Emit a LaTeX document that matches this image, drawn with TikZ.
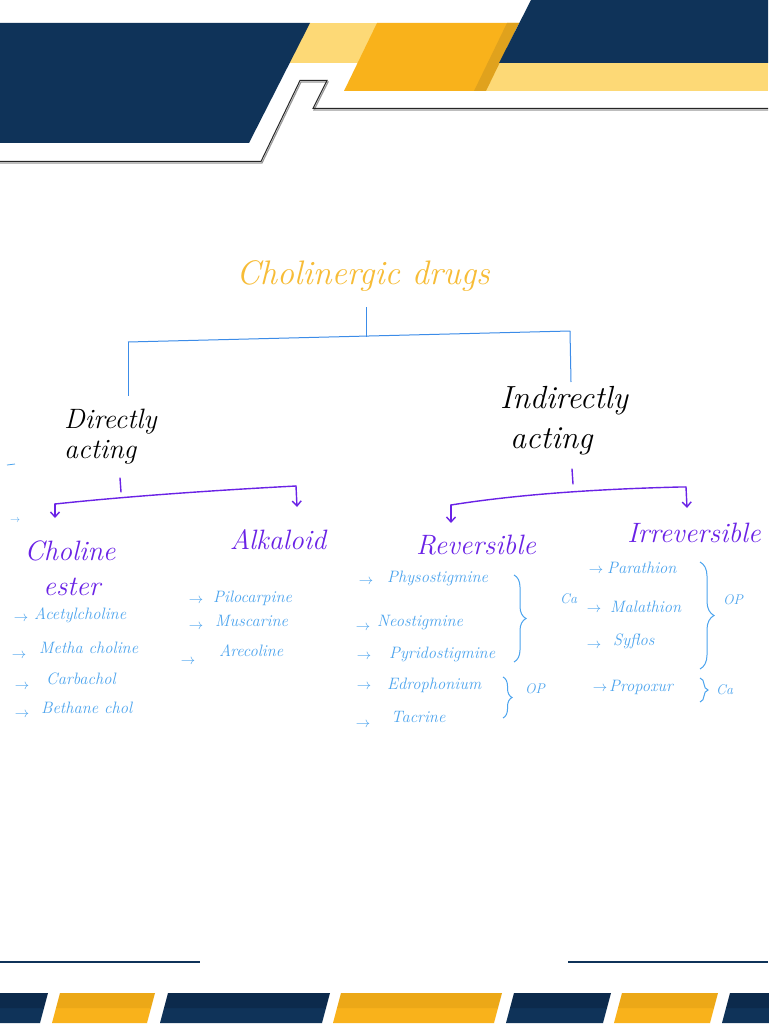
\documentclass[tikz,border=0pt]{standalone}
\usetikzlibrary{decorations.pathreplacing,arrows.meta}
\definecolor{navy}{HTML}{0F3359}
\definecolor{navytop}{HTML}{0C2A4C}
\definecolor{orng}{HTML}{F9B21B}
\definecolor{orngtop}{HTML}{ECA817}
\definecolor{orngdark}{HTML}{E0A21D}
\definecolor{lyel}{HTML}{FDD976}
\definecolor{ttl}{HTML}{F7BC36}
\definecolor{treeblue}{HTML}{3C8CE8}
\definecolor{purp}{HTML}{6A22E6}
\definecolor{lblue}{HTML}{4CA4EE}
\definecolor{shadowgray}{HTML}{9A9A9A}
\tikzset{
  titletext/.style={text=ttl,font=\fontsize{34}{38}\selectfont\itshape,inner sep=0pt},
  blacktext/.style={text=black,font=\fontsize{28}{30}\selectfont\itshape,inner sep=0pt,anchor=base west},
  bigblacktext/.style={text=black,font=\fontsize{32}{34}\selectfont\itshape,inner sep=0pt,anchor=base west},
  headtext/.style={text=purp,font=\fontsize{28}{30}\selectfont\itshape,inner sep=0pt,anchor=base},
  itemtext/.style={text=lblue,font=\fontsize{16.5}{18}\selectfont\itshape,anchor=west,inner sep=0pt},
  arrowtext/.style={text=lblue,font=\fontsize{14}{14}\selectfont,inner sep=0pt},
  marktext/.style={text=lblue,font=\fontsize{14}{14}\selectfont\itshape,anchor=west,inner sep=0pt},
  bluetree/.style={draw=treeblue,line width=1pt},
  purptree/.style={draw=purp,line width=1.4pt,line cap=round},
  purparrow/.style={purptree,-{Straight Barb[length=5pt,width=9pt]}},
  bracestyle/.style={draw=lblue,line width=1pt,decorate,decoration={brace,amplitude=#1}},
}
\newcommand{\footseg}[3]{%
  \fill[#3] (#1,1008) -- (#2,1008) -- (#2-4,1023) -- (#1-4,1023) -- cycle;
  \fill[#3top] (#1+4,993) -- (#2+4,993) -- (#2,1008) -- (#1,1008) -- cycle;}
\begin{document}
\begin{tikzpicture}[x=1pt,y=-1pt]
\useasboundingbox (0,0) rectangle (768,1024);
\fill[white] (0,0) rectangle (768,1024);
% ---------- header ----------
\fill[lyel] (280,23) rectangle (400,63);
\fill[lyel] (470,63) rectangle (768,91);
\fill[orng] (377,23) -- (519,23) -- (484,91) -- (344,91) -- cycle;
\fill[orngdark] (507,23) -- (519,23) -- (486,91) -- (474,91) -- cycle;
\fill[navy] (0,23) -- (310,23) -- (249,143) -- (0,143) -- cycle;
\fill[navy] (531,0) -- (768,0) -- (768,63) -- (499,63) -- cycle;
\draw[shadowgray,line width=1.2pt] (0,163) -- (262,163) -- (301,82) -- (328,82) -- (314,110) -- (768,110);
\draw[black!85,line width=1pt] (0,161.5) -- (261,161.5) -- (300,80.5) -- (327,80.5) -- (313,108.5) -- (768,108.5);
% ---------- footer ----------
\draw[navy,line width=1.6pt] (0,962) -- (200,962);
\draw[navy,line width=1.6pt] (568,962) -- (768,962);
\footseg{-10}{44}{navy}
\footseg{56}{151}{orng}
\footseg{164}{326}{navy}
\footseg{337}{498}{orng}
\footseg{510}{607}{navy}
\footseg{618}{714}{orng}
\footseg{726}{790}{navy}
% ---------- title and first level ----------
\node[titletext] (root) at (363,276) {Cholinergic drugs};
\coordinate (rootb) at (366,307);
\coordinate (rootj) at (366,337);
\coordinate (hl) at (128,342);
\coordinate (hr) at (570,331);
\node[blacktext] (direct) at (64,428) {Directly};
\node[blacktext] (directb) at (64,458) {acting};
\node[bigblacktext] (indirect) at (500,408) {Indirectly};
\node[bigblacktext] (indirectb) at (510,448) {acting};
\coordinate (dl) at (128,396);
\coordinate (dr) at (571,382);
\draw[bluetree] (rootb) -- (rootj);
\draw[bluetree] (hl) -- (hr);
\draw[bluetree] (hl) -- (dl);
\draw[bluetree] (hr) -- (dr);
% ---------- purple trees ----------
\coordinate (tl1) at (120,478);
\coordinate (tl2) at (121,492);
\coordinate (pl1) at (55,504);
\coordinate (pl2) at (296,486);
\coordinate (al1) at (55,518);
\coordinate (al2) at (297,507);
\draw[purptree] (tl1) -- (tl2);
\draw[purptree] (pl1) .. controls (130,496) and (220,490) .. (pl2);
\draw[purparrow] (pl1) -- (al1);
\draw[purparrow] (pl2) -- (al2);
\coordinate (tr1) at (572,469);
\coordinate (tr2) at (573,484);
\coordinate (pr1) at (451,505);
\coordinate (pr2) at (680,487);
\coordinate (pr3) at (686,487);
\coordinate (ar1) at (451,523);
\coordinate (ar2) at (687,508);
\draw[purptree] (tr1) -- (tr2);
\draw[purptree] (pr1) .. controls (520,494) and (600,489) .. (pr2) -- (pr3);
\draw[purparrow] (pr1) -- (ar1);
\draw[purparrow] (pr3) -- (ar2);
% ---------- headings ----------
\node[headtext] (choline) at (70,560) {Choline};
\node[headtext] (ester) at (72,595) {ester};
\node[headtext] (alkaloid) at (278,549) {Alkaloid};
\node[headtext] (reversible) at (476,554) {Reversible};
\node[headtext] (irreversible) at (694,542) {Irreversible};
% ---------- stray marks ----------
\coordinate (s1) at (7,465);
\coordinate (s2) at (15,464);
\draw[lblue,line width=0.8pt] (s1) -- (s2);
\node[arrowtext,font=\fontsize{10}{10}\selectfont] (sa) at (15,521) {$\rightarrow$};
% ---------- choline esters ----------
\node[arrowtext] (a1) at (21,619) {$\rightarrow$};
\node[itemtext] (i1) at (34,615) {Acetylcholine};
\node[arrowtext] (a2) at (19,656) {$\rightarrow$};
\node[itemtext] (i2) at (39,648) {Metha choline};
\node[arrowtext] (a3) at (22,687) {$\rightarrow$};
\node[itemtext] (i3) at (46,679) {Carbachol};
\node[arrowtext] (a4) at (22,715) {$\rightarrow$};
\node[itemtext] (i4) at (41,708) {Bethane chol};
% ---------- alkaloids ----------
\node[arrowtext] (b1) at (196,601) {$\rightarrow$};
\node[itemtext] (j1) at (213,598) {Pilocarpine};
\node[arrowtext] (b2) at (196,627) {$\rightarrow$};
\node[itemtext] (j2) at (215,621) {Muscarine};
\node[arrowtext] (b3) at (188,662) {$\rightarrow$};
\node[itemtext] (j3) at (219,651) {Arecoline};
% ---------- reversible ----------
\node[arrowtext] (c1) at (366,582) {$\rightarrow$};
\node[itemtext] (k1) at (387,578) {Physostigmine};
\node[arrowtext] (c2) at (363,628) {$\rightarrow$};
\node[itemtext] (k2) at (377,623) {Neostigmine};
\node[arrowtext] (c3) at (364,657) {$\rightarrow$};
\node[itemtext] (k3) at (389,654) {Pyridostigmine};
\node[arrowtext] (c4) at (364,687) {$\rightarrow$};
\node[itemtext] (k4) at (387,685) {Edrophonium};
\node[arrowtext] (c5) at (363,725) {$\rightarrow$};
\node[itemtext] (k5) at (391,717) {Tacrine};
\coordinate (br1a) at (514,575);
\coordinate (br1b) at (514,662);
\draw[bracestyle=12pt] (br1a) -- (br1b);
\node[marktext] (ca1) at (560,599) {Ca};
\coordinate (br2a) at (503,677);
\coordinate (br2b) at (503,718);
\draw[bracestyle=9pt] (br2a) -- (br2b);
\node[marktext] (op1) at (525,689) {OP};
% ---------- irreversible ----------
\node[arrowtext] (d1) at (596,571) {$\rightarrow$};
\node[itemtext] (m1) at (607,568) {Parathion};
\node[arrowtext] (d2) at (594,610) {$\rightarrow$};
\node[itemtext] (m2) at (610,607) {Malathion};
\node[arrowtext] (d3) at (594,646) {$\rightarrow$};
\node[itemtext] (m3) at (613,641) {Syflos};
\node[arrowtext] (d4) at (600,689) {$\rightarrow$};
\node[itemtext] (m4) at (609,687) {Propoxur};
\coordinate (br3a) at (700,562);
\coordinate (br3b) at (700,669);
\draw[bracestyle=14pt] (br3a) -- (br3b);
\node[marktext] (op2) at (723,600) {OP};
\coordinate (br4a) at (700,678);
\coordinate (br4b) at (700,702);
\draw[bracestyle=8pt] (br4a) -- (br4b);
\node[marktext] (ca2) at (716,690) {Ca};
\end{tikzpicture}
\end{document}
